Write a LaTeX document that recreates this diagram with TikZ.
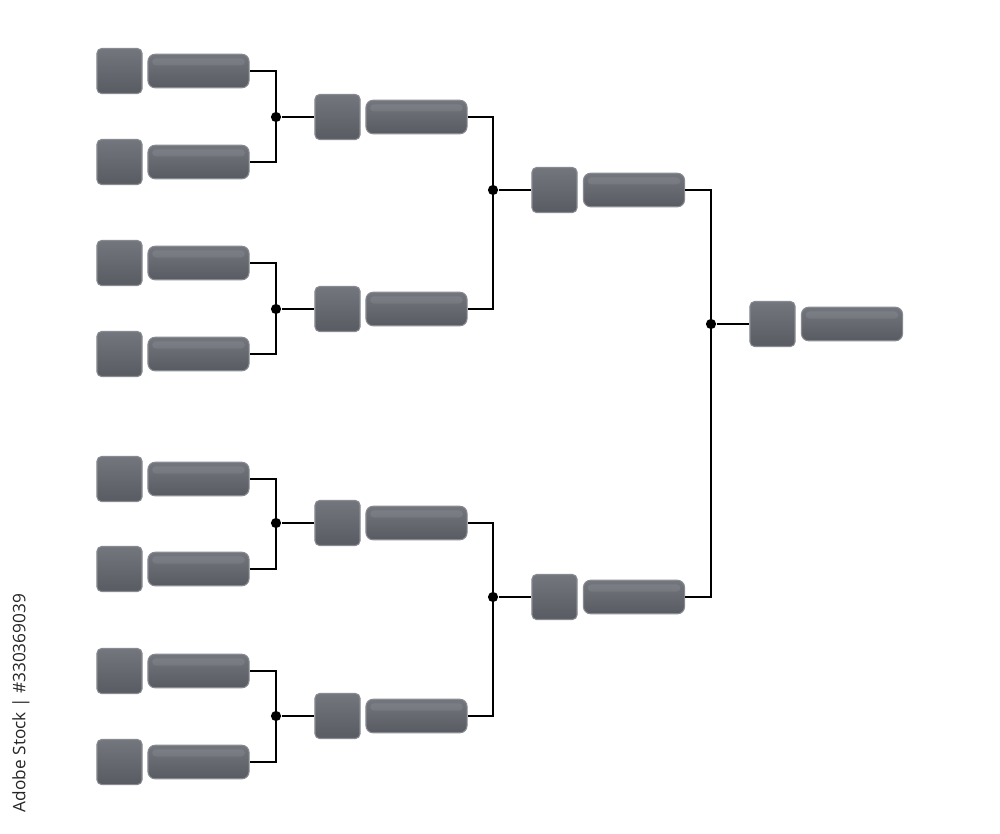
\documentclass[tikz,border=0pt]{standalone}
\usepackage{fontspec}
\newfontfamily\wmfont{Open Sans}
\begin{document}
\begin{tikzpicture}[x=0.01cm,y=-0.01cm,
  sq/.style={rounded corners=1.3pt, minimum width=0.45cm, minimum height=0.45cm, inner sep=0pt,
    top color=boxtop, bottom color=boxbot, draw=boxedge, line width=0.3pt},
  bar/.style={rounded corners=2pt, minimum width=1.01cm, minimum height=0.335cm, inner sep=0pt,
    top color=boxtop, bottom color=boxbot, draw=boxedge, line width=0.3pt,
    path picture={\fill[white,opacity=0.08,rounded corners=1pt]
      ([shift={(1.2pt,-1.2pt)}]path picture bounding box.north west) rectangle
      ([shift={(-1.2pt,-3.2pt)}]path picture bounding box.north east);}},
  jdot/.style={circle, fill=black, inner sep=0pt, minimum size=2.9pt},
  wire/.style={line width=0.5pt, black},
  thick wire/.style={line width=0.8pt, black}]
\definecolor{boxtop}{HTML}{73767D}
\definecolor{boxbot}{HTML}{585B62}
\definecolor{boxedge}{HTML}{878A90}
\useasboundingbox (0,0) rectangle (1000,833);
% round 1
\foreach \i/\y in {1/71,2/162,3/263,4/354,5/479,6/569,7/671,8/762}{
  \node[sq] (s\i) at (119.5,\y) {};
  \node[bar] (b\i) at (198.5,\y) {};
}
% round 2
\foreach \i/\y in {9/117,10/309,11/523,12/716}{
  \node[sq] (s\i) at (337.5,\y) {};
  \node[bar] (b\i) at (416.5,\y) {};
}
% round 3
\foreach \i/\y in {13/190,14/597}{
  \node[sq] (s\i) at (554.5,\y) {};
  \node[bar] (b\i) at (634,\y) {};
}
% final
\node[sq] (s15) at (772.5,324) {};
\node[bar] (b15) at (852,324) {};
% junctions
\node[jdot] (j1) at (276,117) {};
\node[jdot] (j2) at (276,309) {};
\node[jdot] (j3) at (276,523) {};
\node[jdot] (j4) at (276,716) {};
\node[jdot] (j5) at (493,190) {};
\node[jdot] (j6) at (493,597) {};
\node[jdot] (j7) at (711,324) {};
% connectors
\draw[wire] (b1.east) -| (j1.center) |- (b2.east);
\draw[wire] (b3.east) -| (j2.center) |- (b4.east);
\draw[wire] (b5.east) -| (j3.center) |- (b6.east);
\draw[wire] (b7.east) -| (j4.center) |- (b8.east);
\draw[wire] (j1) -- (s9.west);
\draw[wire] (j2) -- (s10.west);
\draw[wire] (j3) -- (s11.west);
\draw[wire] (j4) -- (s12.west);
\draw[wire] (b9.east) -| (j5.center) |- (b10.east);
\draw[wire] (b11.east) -| (j6.center) |- (b12.east);
\draw[wire] (j5) -- (s13.west);
\draw[wire] (j6) -- (s14.west);
\draw[thick wire] (b13.east) -| (j7.center) |- (b14.east);
\draw[wire] (j7) -- (s15.west);
% watermark caption
\node[rotate=90, text=black!85, font=\wmfont\fontsize{4.9pt}{5pt}\selectfont, inner sep=0pt] (wm) at (21,703) {Adobe Stock | \#330369039};
\end{tikzpicture}
\end{document}
